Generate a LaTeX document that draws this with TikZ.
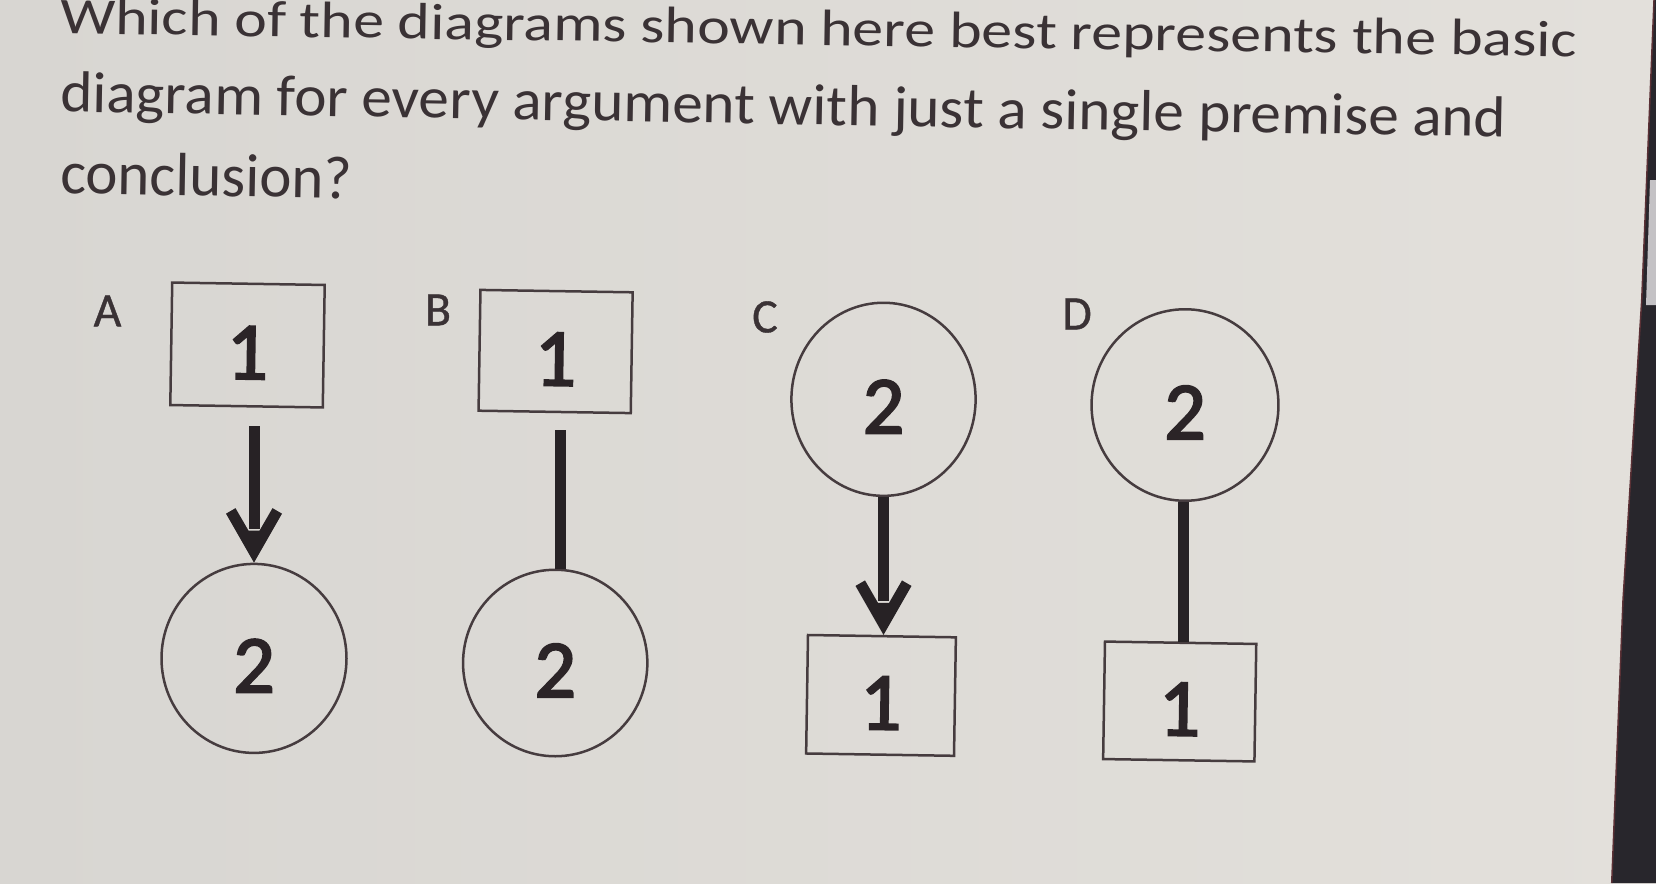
\documentclass[tikz,border=0pt]{standalone}
\usepackage{fontspec}
\setmainfont{Carlito}
\newfontfamily\digfont[FakeBold=2.5]{Carlito}
\newfontfamily\lblfont[FakeBold=0.8]{Carlito}
\usetikzlibrary{shapes.geometric,arrows.meta,calc}
\definecolor{bgA}{HTML}{D8D6D2}
\definecolor{bgB}{HTML}{E3E0DB}
\definecolor{inkC}{HTML}{3A3235}
\definecolor{digC}{HTML}{2B2427}
\definecolor{outC}{HTML}{463C3F}
\definecolor{connC}{HTML}{272225}
\definecolor{bezelC}{HTML}{28262C}
\definecolor{edgeC}{HTML}{5A3035}
\definecolor{patchC}{HTML}{C4C2C5}
\pgfdeclarearrow{
  name = Chev,
  setup code = {
    \pgfarrowssettipend{0pt}
    \pgfarrowssetlineend{-34pt}
    \pgfarrowssetbackend{-54.5pt}
    \pgfarrowshullpoint{0pt}{0pt}
    \pgfarrowshullpoint{-55pt}{28pt}
    \pgfarrowshullpoint{-55pt}{-28pt}
  },
  drawing code = {
    \pgfpathmoveto{\pgfqpoint{0pt}{0pt}}
    \pgfpathlineto{\pgfqpoint{-49pt}{28pt}}
    \pgfpathlineto{\pgfqpoint{-54.5pt}{18.5pt}}
    \pgfpathlineto{\pgfqpoint{-32pt}{5.5pt}}
    \pgfpathlineto{\pgfqpoint{-32pt}{-5.5pt}}
    \pgfpathlineto{\pgfqpoint{-54.5pt}{-18.5pt}}
    \pgfpathlineto{\pgfqpoint{-49pt}{-28pt}}
    \pgfpathclose
    \pgfusepathqfill
  }
}
\begin{document}
\begin{tikzpicture}[x={(1pt,0pt)}, y={(0pt,-1pt)},
  qtext/.style={anchor=base west, inner sep=0pt, text=inkC,
    font=\fontsize{61}{61}\selectfont},
  lbl/.style={inner sep=0pt, text=inkC, font=\lblfont\fontsize{48}{48}\selectfont},
  pbox/.style={rectangle, draw=outC, line width=2.5pt, inner sep=0pt,
    text=digC, text height=68pt, text depth=0pt,
    font=\digfont\fontsize{82}{82}\selectfont, rotate=-0.9},
  pcirc/.style={ellipse, draw=outC, line width=2.5pt, inner sep=0pt,
    text=digC, text height=68pt, text depth=0pt,
    font=\digfont\fontsize{82}{82}\selectfont},
  conn/.style={draw=connC, line width=11pt}
]
% background
\path[use as bounding box, left color=bgA, right color=bgB] (0,0) rectangle (1656,883);
% screen bezel at right edge
\fill[bezelC] (1654,0) -- (1641.7,300) -- (1623,600) -- (1611.7,883) -- (1656,883) -- (1656,0) -- cycle;
\fill[patchC] (1650,180) -- (1656,180) -- (1656,305) -- (1646,305) -- cycle;
\draw[edgeC, line width=1.5pt] (1654,0) -- (1641.7,300) -- (1623,600) -- (1611.7,883);

% question text
\node[qtext, rotate=-0.89, xscale=1.014, yscale=0.84] (q1) at (60,33.3) {Which of the diagrams shown here best represents the basic};
\node[qtext, rotate=-1.0, xscale=1.004, yscale=0.95] (q2) at (60,111.7) {diagram for every argument with just a single premise and};
\node[qtext, rotate=-1.0] (q3) at (60,193.5) {conclusion?};

% option labels
\node[lbl] (la) at (107.5,311) {A};
\node[lbl] (lb) at (438,310) {B};
\node[lbl] (lc) at (765,317) {C};
\node[lbl] (ld) at (1077,314) {D};

% A
\node[pbox, minimum width=152.5pt, minimum height=122.5pt] (A1) at (247.5,345) {1};
\node[pcirc, minimum width=185pt, minimum height=189pt] (A2) at (254,658.4) {2};
\draw[conn, -{Chev}, shorten <=19pt] (A2.north |- A1.south) -- (A2.north);

% B
\node[pbox, minimum width=152.2pt, minimum height=120.8pt] (B1) at (555.6,351.5) {1};
\node[pcirc, minimum width=184.3pt, minimum height=186.5pt] (B2) at (555.2,663) {2};
\draw[conn, shorten <=17pt] ([xshift=4.8pt]B2.north |- B1.south) -- ([xshift=4.8pt]B2.north);

% C
\node[pcirc, minimum width=184.2pt, minimum height=193.1pt] (C2) at (883.5,399.3) {2};
\node[pbox, minimum width=147.9pt, minimum height=118.5pt] (C1) at (881,695.4) {1};
\draw[conn, -{Chev}] (C2.south) -- (C2.south |- C1.north);

% D
\node[pcirc, minimum width=186.9pt, minimum height=191.5pt] (D2) at (1185,405) {2};
\node[pbox, minimum width=151.3pt, minimum height=117.5pt] (D1) at (1179.7,701.5) {1};
\draw[conn] ([xshift=-2pt]D2.south) -- ([xshift=-2pt]D2.south |- D1.north);
\end{tikzpicture}
\end{document}
